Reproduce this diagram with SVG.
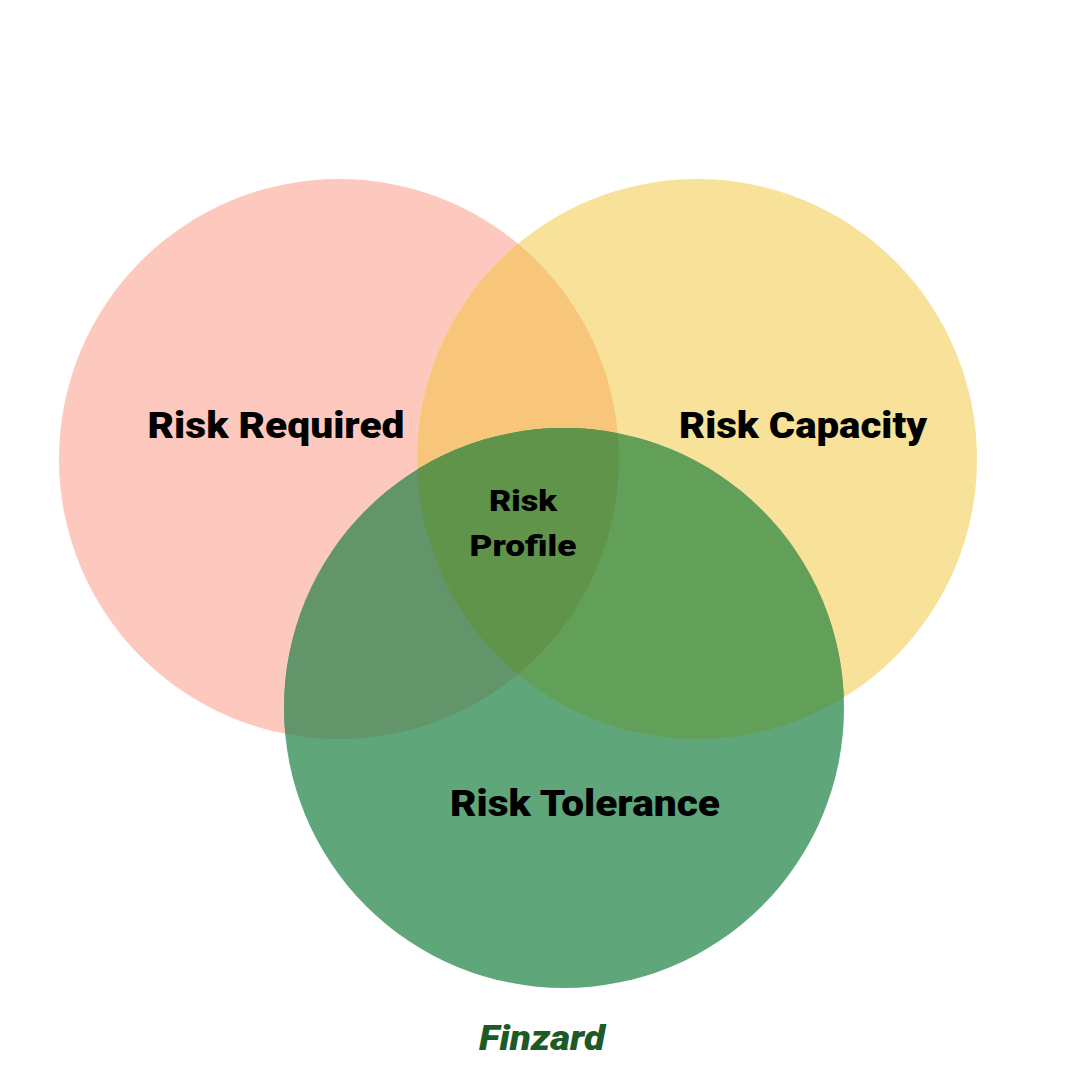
<svg xmlns="http://www.w3.org/2000/svg" width="1080" height="1080" viewBox="0 0 1080 1080">
<style>
.l{font-family:Roboto,"Liberation Sans",sans-serif;font-weight:900;fill:#000;text-anchor:middle}
</style>
<defs>
<clipPath id="cp"><circle cx="339" cy="459" r="280"/></clipPath>
<clipPath id="cy"><circle cx="697" cy="459" r="280"/></clipPath>
<clipPath id="cg"><circle cx="564" cy="708" r="280"/></clipPath>
</defs>
<rect width="1080" height="1080" fill="#fff"/>
<g id="required"><circle cx="339" cy="459" r="280" fill="#fdc9be"/></g>
<g id="capacity"><circle cx="697" cy="459" r="280" fill="#f8e29a"/>
<circle cx="697" cy="459" r="280" fill="#f7c67a" clip-path="url(#cp)"/></g>
<g id="tolerance"><circle cx="564" cy="708" r="280" fill="#60a67b"/>
<g clip-path="url(#cg)">
<circle cx="339" cy="459" r="280" fill="#63956a"/>
<circle cx="697" cy="459" r="280" fill="#62a05a"/>
<g clip-path="url(#cp)"><circle cx="697" cy="459" r="280" fill="#5f944a"/></g>
</g></g>
<g id="labels">
<text class="l" x="276" y="438" font-size="37" textLength="257" lengthAdjust="spacingAndGlyphs">Risk Required</text>
<text class="l" x="803" y="438" font-size="37" textLength="248" lengthAdjust="spacingAndGlyphs">Risk Capacity</text>
<text class="l" x="585" y="816" font-size="37" textLength="270" lengthAdjust="spacingAndGlyphs">Risk Tolerance</text>
<text class="l" x="523" y="511" font-size="29" textLength="68" lengthAdjust="spacingAndGlyphs">Risk</text>
<text class="l" x="523" y="556" font-size="29" textLength="107" lengthAdjust="spacingAndGlyphs">Profile</text>
<text x="542" y="1050" font-family="Roboto,'Liberation Sans',sans-serif" font-weight="900" font-style="italic" font-size="35" fill="#1d5a26" text-anchor="middle" textLength="126" lengthAdjust="spacingAndGlyphs">Finzard</text>
</g>
</svg>
